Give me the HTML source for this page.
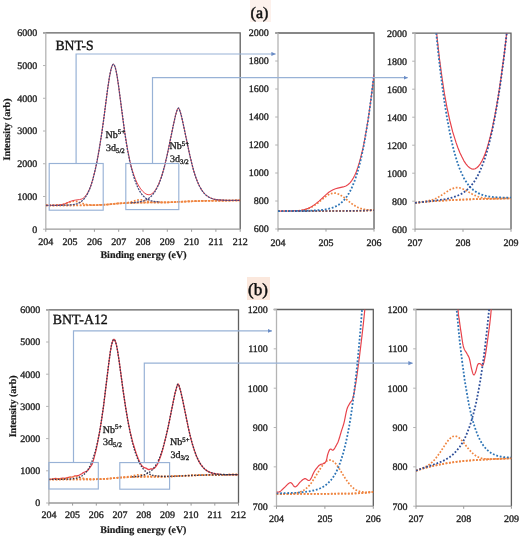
<!DOCTYPE html>
<html><head><meta charset="utf-8"><title>XPS Nb 3d</title><style>
html,body{margin:0;padding:0;background:#fff;}
svg{display:block;}
text{font-family:"Liberation Serif","Times New Roman",serif;text-rendering:geometricPrecision;}
.tl{font-size:10px;fill:#262626;stroke:#262626;stroke-width:0.35px;}
.ax{font-size:10px;font-weight:bold;fill:#1a1a1a;stroke:#1a1a1a;stroke-width:0.2px;}
.nm{font-size:14px;fill:#111;stroke:#111;stroke-width:0.35px;}
.nb{font-size:10px;fill:#1e1e1e;stroke:#1e1e1e;stroke-width:0.35px;}
.sup{font-size:6.8px;}
.ttl{font-size:16px;fill:#111;stroke:#111;stroke-width:0.5px;}
.ttlb{font-size:17px;fill:#111;stroke:#111;stroke-width:0.5px;}
</style></head>
<body><svg width="520" height="536" viewBox="0 0 520 536">
<rect width="520" height="536" fill="#fff"/>
<filter id="soft" x="0" y="0" width="100%" height="100%"><feGaussianBlur stdDeviation="0.35"/></filter>
<g filter="url(#soft)">
<defs>
<clipPath id="ca1"><rect x="45.80" y="32.82" width="194.40" height="196.38"/></clipPath>
<clipPath id="ca2"><rect x="278.00" y="33.00" width="96.00" height="196.00"/></clipPath>
<clipPath id="ca3"><rect x="415.00" y="33.20" width="96.00" height="196.00"/></clipPath>
<clipPath id="cb1"><rect x="48.90" y="309.80" width="189.60" height="193.20"/></clipPath>
<clipPath id="cb2"><rect x="276.50" y="309.50" width="96.80" height="196.70"/></clipPath>
<clipPath id="cb3"><rect x="416.00" y="309.50" width="95.40" height="196.70"/></clipPath>
<marker id="arr" markerWidth="6" markerHeight="6" refX="4.2" refY="2.1" orient="auto" markerUnits="userSpaceOnUse"><path d="M0,0 L4.4,2.1 L0,4.2 z" fill="#6a8cc6"/></marker>
</defs>
<rect x="250" y="0" width="21" height="22" fill="#fdf1ec"/>
<rect x="247" y="277" width="23" height="23" fill="#fbe8dd"/>
<text x="259.5" y="18" class="ttl" text-anchor="middle">(a)</text>
<text x="258" y="294.5" class="ttlb" text-anchor="middle">(b)</text>
<path d="M43.00,32.82 H240.20 V229.20" fill="none" stroke="#5f5f5f" stroke-width="1.3"/>
<path d="M45.80,32.82 V229.20" stroke="#b4b4b4" stroke-width="1.3"/>
<path d="M45.80,229.20 H240.20" stroke="#9a9a9a" stroke-width="1.3"/>
<path d="M43.00,229.20 H45.80" stroke="#b4b4b4" stroke-width="1"/>
<text x="37.30" y="232.60" class="tl" text-anchor="end">0</text>
<path d="M43.00,196.47 H45.80" stroke="#b4b4b4" stroke-width="1"/>
<text x="37.30" y="199.87" class="tl" text-anchor="end">1000</text>
<path d="M43.00,163.74 H45.80" stroke="#b4b4b4" stroke-width="1"/>
<text x="37.30" y="167.14" class="tl" text-anchor="end">2000</text>
<path d="M43.00,131.01 H45.80" stroke="#b4b4b4" stroke-width="1"/>
<text x="37.30" y="134.41" class="tl" text-anchor="end">3000</text>
<path d="M43.00,98.28 H45.80" stroke="#b4b4b4" stroke-width="1"/>
<text x="37.30" y="101.68" class="tl" text-anchor="end">4000</text>
<path d="M43.00,65.55 H45.80" stroke="#b4b4b4" stroke-width="1"/>
<text x="37.30" y="68.95" class="tl" text-anchor="end">5000</text>
<path d="M43.00,32.82 H45.80" stroke="#b4b4b4" stroke-width="1"/>
<text x="37.30" y="36.22" class="tl" text-anchor="end">6000</text>
<path d="M45.80,229.20 V231.80" stroke="#9a9a9a" stroke-width="1"/>
<text x="45.80" y="244.80" class="tl" text-anchor="middle">204</text>
<path d="M70.10,229.20 V231.80" stroke="#9a9a9a" stroke-width="1"/>
<text x="70.10" y="244.80" class="tl" text-anchor="middle">205</text>
<path d="M94.40,229.20 V231.80" stroke="#9a9a9a" stroke-width="1"/>
<text x="94.40" y="244.80" class="tl" text-anchor="middle">206</text>
<path d="M118.70,229.20 V231.80" stroke="#9a9a9a" stroke-width="1"/>
<text x="118.70" y="244.80" class="tl" text-anchor="middle">207</text>
<path d="M143.00,229.20 V231.80" stroke="#9a9a9a" stroke-width="1"/>
<text x="143.00" y="244.80" class="tl" text-anchor="middle">208</text>
<path d="M167.30,229.20 V231.80" stroke="#9a9a9a" stroke-width="1"/>
<text x="167.30" y="244.80" class="tl" text-anchor="middle">209</text>
<path d="M191.60,229.20 V231.80" stroke="#9a9a9a" stroke-width="1"/>
<text x="191.60" y="244.80" class="tl" text-anchor="middle">210</text>
<path d="M215.90,229.20 V231.80" stroke="#9a9a9a" stroke-width="1"/>
<text x="215.90" y="244.80" class="tl" text-anchor="middle">211</text>
<path d="M240.20,229.20 V231.80" stroke="#9a9a9a" stroke-width="1"/>
<text x="240.20" y="244.80" class="tl" text-anchor="middle">212</text>
<path d="M275.20,33.00 H374.00 V229.00" fill="none" stroke="#5f5f5f" stroke-width="1.3"/>
<path d="M278.00,33.00 V229.00" stroke="#b4b4b4" stroke-width="1.3"/>
<path d="M278.00,229.00 H374.00" stroke="#9a9a9a" stroke-width="1.3"/>
<path d="M275.20,229.00 H278.00" stroke="#b4b4b4" stroke-width="1"/>
<text x="268.80" y="232.40" class="tl" text-anchor="end">600</text>
<path d="M275.20,201.00 H278.00" stroke="#b4b4b4" stroke-width="1"/>
<text x="268.80" y="204.40" class="tl" text-anchor="end">800</text>
<path d="M275.20,173.00 H278.00" stroke="#b4b4b4" stroke-width="1"/>
<text x="268.80" y="176.40" class="tl" text-anchor="end">1000</text>
<path d="M275.20,145.00 H278.00" stroke="#b4b4b4" stroke-width="1"/>
<text x="268.80" y="148.40" class="tl" text-anchor="end">1200</text>
<path d="M275.20,117.00 H278.00" stroke="#b4b4b4" stroke-width="1"/>
<text x="268.80" y="120.40" class="tl" text-anchor="end">1400</text>
<path d="M275.20,89.00 H278.00" stroke="#b4b4b4" stroke-width="1"/>
<text x="268.80" y="92.40" class="tl" text-anchor="end">1600</text>
<path d="M275.20,61.00 H278.00" stroke="#b4b4b4" stroke-width="1"/>
<text x="268.80" y="64.40" class="tl" text-anchor="end">1800</text>
<path d="M275.20,33.00 H278.00" stroke="#b4b4b4" stroke-width="1"/>
<text x="268.80" y="36.40" class="tl" text-anchor="end">2000</text>
<path d="M278.00,229.00 V231.60" stroke="#9a9a9a" stroke-width="1"/>
<text x="278.00" y="245.50" class="tl" text-anchor="middle">204</text>
<path d="M326.00,229.00 V231.60" stroke="#9a9a9a" stroke-width="1"/>
<text x="326.00" y="245.50" class="tl" text-anchor="middle">205</text>
<path d="M374.00,229.00 V231.60" stroke="#9a9a9a" stroke-width="1"/>
<text x="374.00" y="245.50" class="tl" text-anchor="middle">206</text>
<path d="M412.20,33.20 H511.00 V229.20" fill="none" stroke="#5f5f5f" stroke-width="1.3"/>
<path d="M415.00,33.20 V229.20" stroke="#b4b4b4" stroke-width="1.3"/>
<path d="M415.00,229.20 H511.00" stroke="#9a9a9a" stroke-width="1.3"/>
<path d="M412.20,229.20 H415.00" stroke="#b4b4b4" stroke-width="1"/>
<text x="407.00" y="232.60" class="tl" text-anchor="end">600</text>
<path d="M412.20,201.20 H415.00" stroke="#b4b4b4" stroke-width="1"/>
<text x="407.00" y="204.60" class="tl" text-anchor="end">800</text>
<path d="M412.20,173.20 H415.00" stroke="#b4b4b4" stroke-width="1"/>
<text x="407.00" y="176.60" class="tl" text-anchor="end">1000</text>
<path d="M412.20,145.20 H415.00" stroke="#b4b4b4" stroke-width="1"/>
<text x="407.00" y="148.60" class="tl" text-anchor="end">1200</text>
<path d="M412.20,117.20 H415.00" stroke="#b4b4b4" stroke-width="1"/>
<text x="407.00" y="120.60" class="tl" text-anchor="end">1400</text>
<path d="M412.20,89.20 H415.00" stroke="#b4b4b4" stroke-width="1"/>
<text x="407.00" y="92.60" class="tl" text-anchor="end">1600</text>
<path d="M412.20,61.20 H415.00" stroke="#b4b4b4" stroke-width="1"/>
<text x="407.00" y="64.60" class="tl" text-anchor="end">1800</text>
<path d="M412.20,33.20 H415.00" stroke="#b4b4b4" stroke-width="1"/>
<text x="407.00" y="36.60" class="tl" text-anchor="end">2000</text>
<path d="M415.00,229.20 V231.80" stroke="#9a9a9a" stroke-width="1"/>
<text x="415.00" y="245.50" class="tl" text-anchor="middle">207</text>
<path d="M463.00,229.20 V231.80" stroke="#9a9a9a" stroke-width="1"/>
<text x="463.00" y="245.50" class="tl" text-anchor="middle">208</text>
<path d="M511.00,229.20 V231.80" stroke="#9a9a9a" stroke-width="1"/>
<text x="511.00" y="245.50" class="tl" text-anchor="middle">209</text>
<g clip-path="url(#ca1)">
<path d="M45.8,205.4 L55.5,205.3 L60.4,204.9 L64.2,204.1 L71.0,201.7 L72.6,201.3 L74.0,201.2 L75.7,201.3 L77.5,201.6 L83.6,203.8 L86.6,204.6 L90.1,205.0 L94.5,205.1 L105.3,204.7 L117.8,203.5 L128.4,203.0 L143.0,202.6 L169.0,202.3 L191.2,201.3 L205.2,200.8 L240.2,200.4" fill="none" stroke="#ef8540" stroke-width="1.7" stroke-dasharray="1.7 1.7"/>
<path d="M45.8,205.4 L86.1,205.3 L95.9,205.1 L103.2,204.8 L107.9,204.5 L116.6,203.6 L126.9,202.8 L130.6,202.1 L137.0,200.2 L139.8,199.8 L141.3,199.9 L142.8,200.1 L148.4,201.5 L151.1,202.0 L154.1,202.3 L158.0,202.4 L170.0,202.3 L190.8,201.3 L203.9,200.9 L240.2,200.4" fill="none" stroke="#ef8540" stroke-width="1.7" stroke-dasharray="1.7 1.7"/>
<path d="M45.8,205.4 L82.9,205.3 L95.1,205.2 L107.1,204.5 L118.3,203.4 L128.2,203.0 L142.9,202.6 L169.0,202.3 L191.2,201.3 L205.2,200.8 L240.2,200.4" fill="none" stroke="#ef8540" stroke-width="1.6" stroke-dasharray="1.6 1.8"/>
<path d="M45.8,205.4 L55.7,205.3 L58.4,205.1 L60.8,204.8 L62.7,204.4 L64.6,203.8 L70.6,201.3 L72.9,200.6 L75.2,200.1 L79.4,199.6 L81.1,199.2 L82.2,198.8 L83.2,198.2 L85.1,196.5 L86.9,194.1 L88.7,190.9 L90.9,185.6 L92.9,179.0 L95.0,170.7 L97.1,161.1 L99.3,148.9 L101.5,134.9 L103.6,120.1 L107.6,89.2 L109.4,77.2 L110.5,71.6 L111.5,67.6 L112.4,65.2 L112.9,64.5 L113.4,64.3 L113.8,64.4 L114.2,64.9 L115.1,67.0 L116.0,70.4 L117.0,75.6 L118.7,86.9 L122.9,119.1 L125.1,134.6 L127.5,149.3 L130.0,161.5 L131.3,166.8 L132.7,171.5 L134.1,175.7 L135.6,179.6 L137.1,183.0 L138.9,186.1 L140.7,188.9 L142.7,191.3 L144.9,193.3 L146.0,194.0 L147.0,194.4 L148.1,194.7 L149.1,194.7 L150.1,194.6 L151.1,194.2 L152.1,193.6 L153.1,192.8 L155.1,190.5 L157.0,187.3 L159.0,183.3 L160.4,179.6 L161.8,175.6 L164.7,165.6 L167.9,151.7 L173.1,126.1 L175.0,117.7 L176.0,113.6 L176.9,110.6 L177.7,108.7 L178.4,107.9 L178.7,108.1 L179.0,108.6 L179.8,110.5 L180.7,113.3 L181.7,117.2 L183.5,125.4 L189.5,153.9 L191.5,162.3 L193.4,169.7 L195.4,176.3 L197.5,181.8 L199.6,186.4 L201.9,190.3 L203.1,192.0 L204.4,193.5 L205.8,194.9 L207.2,196.0 L208.6,197.0 L210.2,197.8 L211.9,198.5 L213.7,199.1 L217.6,199.8 L222.4,200.2 L228.4,200.4 L240.2,200.4" fill="none" stroke="#e8434b" stroke-width="1.0" stroke-linejoin="round"/>
<path d="M45.8,205.4 L60.5,205.3 L67.8,205.1 L72.8,204.7 L76.6,203.9 L78.4,203.2 L80.0,202.4 L81.6,201.3 L83.0,200.0 L84.4,198.5 L85.7,196.7 L87.0,194.7 L88.2,192.4 L90.5,186.9 L92.7,179.9 L94.8,171.6 L97.0,161.6 L99.2,149.2 L101.5,134.9 L103.6,120.1 L107.6,89.2 L109.4,77.2 L110.5,71.6 L111.5,67.6 L112.4,65.2 L112.9,64.5 L113.4,64.3 L113.8,64.5 L114.3,65.0 L115.2,67.2 L116.1,70.9 L117.2,76.5 L118.9,88.3 L124.3,129.3 L126.1,141.5 L127.9,151.9 L129.5,160.0 L131.2,167.3 L132.9,173.8 L134.7,179.6 L136.9,185.5 L139.2,190.3 L140.5,192.4 L141.7,194.1 L143.1,195.7 L144.5,197.1 L145.9,198.2 L147.4,199.2 L149.0,199.9 L150.7,200.6 L152.6,201.1 L154.7,201.5 L160.0,202.0" fill="none" stroke="#474a7e" stroke-width="1.3" stroke-dasharray="2.0 1.0"/>
<path d="M130.9,202.8 L136.5,202.3 L140.8,201.6 L144.4,200.6 L147.4,199.3 L150.2,197.3 L152.6,194.8 L154.9,191.7 L157.1,187.8 L158.9,183.9 L160.7,179.3 L162.4,174.0 L164.1,168.0 L165.8,161.0 L167.6,153.1 L173.2,126.0 L175.0,117.6 L176.0,113.6 L176.9,110.7 L177.7,108.8 L178.4,108.0 L178.7,108.2 L179.0,108.7 L179.8,110.6 L180.7,113.4 L181.7,117.2 L183.5,125.4 L189.5,153.9 L191.5,162.4 L193.4,169.7 L195.4,176.3 L197.5,181.8 L199.6,186.5 L201.9,190.3 L203.1,192.0 L204.4,193.6 L205.8,194.9 L207.2,196.0 L208.6,197.0 L210.2,197.8 L211.9,198.5 L213.7,199.1 L217.6,199.8 L222.4,200.2 L228.4,200.4 L240.2,200.4" fill="none" stroke="#474a7e" stroke-width="1.3" stroke-dasharray="2.0 1.0"/>
</g>
<g clip-path="url(#ca2)">
<path d="M278.0,211.2 L351.1,210.9 L361.8,210.7 L374.0,210.2" fill="none" stroke="#ef8540" stroke-width="1.8" stroke-dasharray="1.7 1.7"/>
<path d="M278.0,211.2 L351.1,210.9 L361.8,210.7 L374.0,210.2" fill="none" stroke="#ef8540" stroke-width="1.7" stroke-dasharray="1.7 1.7"/>
<path d="M278.0,211.2 L290.2,211.2 L297.0,210.9 L302.3,210.3 L306.8,209.2 L310.6,207.7 L314.4,205.4 L317.8,203.0 L324.9,197.2 L328.0,195.0 L329.6,194.2 L331.2,193.6 L332.6,193.3 L334.1,193.1 L335.7,193.2 L337.3,193.6 L338.9,194.3 L340.6,195.2 L343.8,197.3 L350.0,202.3 L352.6,204.3 L355.6,206.2 L358.5,207.7 L361.8,208.8 L365.2,209.5 L369.2,210.0 L374.0,210.1" fill="none" stroke="#ef8540" stroke-width="1.7" stroke-dasharray="1.7 1.7"/>
<path d="M278.0,211.1 L290.8,211.0 L298.0,210.6 L301.0,210.2 L303.6,209.7 L306.1,209.0 L308.3,208.2 L312.0,206.4 L315.6,203.9 L319.0,201.1 L326.6,194.1 L328.8,192.3 L330.8,191.0 L333.1,189.7 L335.5,188.7 L337.8,188.1 L343.2,186.9 L345.9,185.9 L347.5,185.0 L349.0,183.8 L350.4,182.4 L351.7,180.6 L353.3,178.1 L354.8,175.2 L356.3,171.7 L357.7,167.7 L359.2,163.0 L360.6,158.0 L363.4,146.2 L366.1,131.7 L368.8,115.1 L371.4,95.8 L374.0,74.5" fill="none" stroke="#e8434b" stroke-width="1.1" stroke-linejoin="round"/>
<path d="M278.0,211.2 L351.1,210.9 L361.8,210.7 L374.0,210.2" fill="none" stroke="#474a7e" stroke-width="1.6" stroke-dasharray="1.7 1.7"/>
<path d="M278.0,211.1 L299.4,210.9 L312.5,210.6 L321.2,210.0 L324.8,209.6 L327.8,209.0 L330.9,208.3 L333.7,207.3 L336.3,206.1 L338.7,204.7 L340.9,203.1 L343.0,201.2 L345.0,199.0 L346.8,196.6 L349.0,193.2 L351.0,189.5 L352.8,185.4 L354.7,180.6 L356.5,175.4 L358.2,169.5 L359.9,163.1 L361.6,156.0 L363.3,148.1 L364.8,139.9 L368.0,120.9 L371.0,99.2 L374.0,74.7" fill="none" stroke="#2e75b6" stroke-width="1.8" stroke-dasharray="1.8 1.8"/>
</g>
<g clip-path="url(#ca3)">
<path d="M415.0,202.9 L422.5,202.1 L431.1,201.3 L455.0,199.9 L473.6,199.2 L511.0,198.3" fill="none" stroke="#ef8540" stroke-width="1.8" stroke-dasharray="1.7 1.7"/>
<path d="M415.0,202.9 L422.5,202.1 L431.1,201.3 L455.0,199.9 L473.6,199.2 L511.0,198.3" fill="none" stroke="#ef8540" stroke-width="1.7" stroke-dasharray="1.7 1.7"/>
<path d="M415.0,202.9 L426.6,201.2 L430.3,200.4 L433.5,199.4 L436.5,198.2 L439.4,196.6 L448.0,191.0 L450.8,189.3 L453.9,188.1 L455.4,187.7 L456.8,187.6 L458.1,187.6 L459.5,187.8 L462.4,188.7 L465.2,190.0 L471.7,193.8 L474.9,195.4 L478.4,196.8 L482.0,197.7 L486.3,198.3 L491.6,198.6 L500.1,198.5 L511.0,198.3" fill="none" stroke="#ef8540" stroke-width="1.7" stroke-dasharray="1.7 1.7"/>
<path d="M415.0,-286.5 L422.2,-159.9 L426.1,-95.9 L428.3,-64.1 L430.5,-35.0 L432.6,-8.5 L434.8,15.4 L437.2,38.6 L439.5,59.1 L442.0,77.6 L444.4,93.5 L447.0,107.6 L449.8,120.5 L452.7,131.9 L456.0,142.4 L457.9,147.8 L459.9,152.7 L462.0,157.1 L463.9,160.8 L465.9,163.8 L467.8,166.1 L469.6,167.8 L471.5,168.8 L473.3,169.1 L474.2,169.0 L475.1,168.8 L476.8,167.8 L478.5,166.2 L480.3,163.8 L481.9,161.0 L483.6,157.4 L485.3,153.2 L487.0,148.4 L488.6,142.8 L490.3,136.5 L491.9,130.0 L495.1,114.3 L498.3,96.2 L501.4,75.2 L504.5,52.1 L507.6,25.2 L511.0,-6.2" fill="none" stroke="#e8434b" stroke-width="1.2" stroke-linejoin="round"/>
<path d="M415.0,-286.5 L421.7,-168.1 L425.0,-113.9 L428.6,-59.1 L432.2,-11.4 L434.2,11.5 L436.3,33.4 L438.3,53.4 L440.5,72.3 L442.7,89.2 L444.8,104.3 L447.1,118.3 L449.5,131.1 L451.7,141.7 L454.0,151.0 L456.4,159.3 L458.8,166.6 L461.4,172.9 L464.1,178.5 L467.0,183.0 L468.6,185.2 L470.1,187.0 L473.3,190.0 L476.6,192.3 L480.4,194.2 L484.6,195.6 L489.5,196.6 L495.4,197.2 L502.7,197.6 L511.0,197.7" fill="none" stroke="#2e75b6" stroke-width="1.8" stroke-dasharray="1.8 1.8"/>
<path d="M415.0,202.8 L436.8,200.4 L444.9,199.3 L449.1,198.4 L452.8,197.4 L456.2,196.3 L459.2,195.0 L462.4,193.3 L465.3,191.3 L468.1,188.9 L470.6,186.3 L473.1,183.2 L475.4,179.8 L477.5,176.1 L479.7,171.7 L481.9,166.4 L484.1,160.6 L486.3,153.9 L488.3,146.6 L490.3,138.8 L492.3,130.1 L494.2,120.5 L496.1,110.4 L499.9,87.2 L503.5,60.7 L507.1,30.3 L511.0,-5.7" fill="none" stroke="#2f4f9a" stroke-width="1.8" stroke-dasharray="1.8 1.8"/>
</g>
<rect x="49.2" y="163.5" width="54.0" height="46.7" fill="none" stroke="#98b2d6" stroke-width="1.15"/>
<rect x="125.8" y="163.5" width="53.0" height="46.1" fill="none" stroke="#98b2d6" stroke-width="1.15"/>
<path d="M76.1,163.5 V54.0 H275.6" fill="none" stroke="#98b2d6" stroke-width="1.2" marker-end="url(#arr)"/>
<path d="M152.5,163.5 V77.7 H407.7" fill="none" stroke="#98b2d6" stroke-width="1.2" marker-end="url(#arr)"/>
<text x="55.4" y="50.0" class="nm" textLength="38.3" lengthAdjust="spacingAndGlyphs">BNT-S</text>
<text x="105.6" y="137.7" class="nb">Nb<tspan class="sup" dy="-3.3">5+</tspan></text>
<text x="106.0" y="150.6" class="nb">3d<tspan class="sup" dy="2.2">5/2</tspan></text>
<text x="169.6" y="149.2" class="nb">Nb<tspan class="sup" dy="-3.3">5+</tspan></text>
<text x="170.0" y="162.1" class="nb">3d<tspan class="sup" dy="2.2">3/2</tspan></text>
<text x="143.5" y="258.3" class="ax" text-anchor="middle">Binding energy (eV)</text>
<text transform="translate(9.6,129.5) rotate(-90)" class="ax" text-anchor="middle">Intensity (arb)</text>
<path d="M46.10,309.80 H238.50 V503.00" fill="none" stroke="#5f5f5f" stroke-width="1.3"/>
<path d="M48.90,309.80 V503.00" stroke="#b4b4b4" stroke-width="1.3"/>
<path d="M48.90,503.00 H238.50" stroke="#9a9a9a" stroke-width="1.3"/>
<path d="M46.10,503.00 H48.90" stroke="#b4b4b4" stroke-width="1"/>
<text x="40.30" y="506.40" class="tl" text-anchor="end">0</text>
<path d="M46.10,470.80 H48.90" stroke="#b4b4b4" stroke-width="1"/>
<text x="40.30" y="474.20" class="tl" text-anchor="end">1000</text>
<path d="M46.10,438.60 H48.90" stroke="#b4b4b4" stroke-width="1"/>
<text x="40.30" y="442.00" class="tl" text-anchor="end">2000</text>
<path d="M46.10,406.40 H48.90" stroke="#b4b4b4" stroke-width="1"/>
<text x="40.30" y="409.80" class="tl" text-anchor="end">3000</text>
<path d="M46.10,374.20 H48.90" stroke="#b4b4b4" stroke-width="1"/>
<text x="40.30" y="377.60" class="tl" text-anchor="end">4000</text>
<path d="M46.10,342.00 H48.90" stroke="#b4b4b4" stroke-width="1"/>
<text x="40.30" y="345.40" class="tl" text-anchor="end">5000</text>
<path d="M46.10,309.80 H48.90" stroke="#b4b4b4" stroke-width="1"/>
<text x="40.30" y="313.20" class="tl" text-anchor="end">6000</text>
<path d="M48.90,503.00 V505.60" stroke="#9a9a9a" stroke-width="1"/>
<text x="48.90" y="517.60" class="tl" text-anchor="middle">204</text>
<path d="M72.60,503.00 V505.60" stroke="#9a9a9a" stroke-width="1"/>
<text x="72.60" y="517.60" class="tl" text-anchor="middle">205</text>
<path d="M96.30,503.00 V505.60" stroke="#9a9a9a" stroke-width="1"/>
<text x="96.30" y="517.60" class="tl" text-anchor="middle">206</text>
<path d="M120.00,503.00 V505.60" stroke="#9a9a9a" stroke-width="1"/>
<text x="120.00" y="517.60" class="tl" text-anchor="middle">207</text>
<path d="M143.70,503.00 V505.60" stroke="#9a9a9a" stroke-width="1"/>
<text x="143.70" y="517.60" class="tl" text-anchor="middle">208</text>
<path d="M167.40,503.00 V505.60" stroke="#9a9a9a" stroke-width="1"/>
<text x="167.40" y="517.60" class="tl" text-anchor="middle">209</text>
<path d="M191.10,503.00 V505.60" stroke="#9a9a9a" stroke-width="1"/>
<text x="191.10" y="517.60" class="tl" text-anchor="middle">210</text>
<path d="M214.80,503.00 V505.60" stroke="#9a9a9a" stroke-width="1"/>
<text x="214.80" y="517.60" class="tl" text-anchor="middle">211</text>
<path d="M238.50,503.00 V505.60" stroke="#9a9a9a" stroke-width="1"/>
<text x="238.50" y="517.60" class="tl" text-anchor="middle">212</text>
<path d="M273.70,309.50 H373.30 V506.20" fill="none" stroke="#5f5f5f" stroke-width="1.3"/>
<path d="M276.50,309.50 V506.20" stroke="#b4b4b4" stroke-width="1.3"/>
<path d="M276.50,506.20 H373.30" stroke="#9a9a9a" stroke-width="1.3"/>
<path d="M273.70,506.20 H276.50" stroke="#b4b4b4" stroke-width="1"/>
<text x="267.80" y="509.60" class="tl" text-anchor="end">700</text>
<path d="M273.70,466.86 H276.50" stroke="#b4b4b4" stroke-width="1"/>
<text x="267.80" y="470.26" class="tl" text-anchor="end">800</text>
<path d="M273.70,427.52 H276.50" stroke="#b4b4b4" stroke-width="1"/>
<text x="267.80" y="430.92" class="tl" text-anchor="end">900</text>
<path d="M273.70,388.18 H276.50" stroke="#b4b4b4" stroke-width="1"/>
<text x="267.80" y="391.58" class="tl" text-anchor="end">1000</text>
<path d="M273.70,348.84 H276.50" stroke="#b4b4b4" stroke-width="1"/>
<text x="267.80" y="352.24" class="tl" text-anchor="end">1100</text>
<path d="M273.70,309.50 H276.50" stroke="#b4b4b4" stroke-width="1"/>
<text x="267.80" y="312.90" class="tl" text-anchor="end">1200</text>
<path d="M276.50,506.20 V508.80" stroke="#9a9a9a" stroke-width="1"/>
<text x="276.50" y="522.20" class="tl" text-anchor="middle">204</text>
<path d="M324.90,506.20 V508.80" stroke="#9a9a9a" stroke-width="1"/>
<text x="324.90" y="522.20" class="tl" text-anchor="middle">205</text>
<path d="M373.30,506.20 V508.80" stroke="#9a9a9a" stroke-width="1"/>
<text x="373.30" y="522.20" class="tl" text-anchor="middle">206</text>
<path d="M413.20,309.50 H511.40 V506.20" fill="none" stroke="#5f5f5f" stroke-width="1.3"/>
<path d="M416.00,309.50 V506.20" stroke="#b4b4b4" stroke-width="1.3"/>
<path d="M416.00,506.20 H511.40" stroke="#9a9a9a" stroke-width="1.3"/>
<path d="M413.20,506.20 H416.00" stroke="#b4b4b4" stroke-width="1"/>
<text x="407.60" y="509.60" class="tl" text-anchor="end">700</text>
<path d="M413.20,466.86 H416.00" stroke="#b4b4b4" stroke-width="1"/>
<text x="407.60" y="470.26" class="tl" text-anchor="end">800</text>
<path d="M413.20,427.52 H416.00" stroke="#b4b4b4" stroke-width="1"/>
<text x="407.60" y="430.92" class="tl" text-anchor="end">900</text>
<path d="M413.20,388.18 H416.00" stroke="#b4b4b4" stroke-width="1"/>
<text x="407.60" y="391.58" class="tl" text-anchor="end">1000</text>
<path d="M413.20,348.84 H416.00" stroke="#b4b4b4" stroke-width="1"/>
<text x="407.60" y="352.24" class="tl" text-anchor="end">1100</text>
<path d="M413.20,309.50 H416.00" stroke="#b4b4b4" stroke-width="1"/>
<text x="407.60" y="312.90" class="tl" text-anchor="end">1200</text>
<path d="M416.00,506.20 V508.80" stroke="#9a9a9a" stroke-width="1"/>
<text x="416.00" y="522.20" class="tl" text-anchor="middle">207</text>
<path d="M463.70,506.20 V508.80" stroke="#9a9a9a" stroke-width="1"/>
<text x="463.70" y="522.20" class="tl" text-anchor="middle">208</text>
<path d="M511.40,506.20 V508.80" stroke="#9a9a9a" stroke-width="1"/>
<text x="511.40" y="522.20" class="tl" text-anchor="middle">209</text>
<g clip-path="url(#cb1)">
<path d="M48.9,479.3 L50.5,479.3 L55.7,478.5 L58.0,478.9 L62.8,478.2 L65.1,478.3 L67.5,477.6 L69.9,477.1 L73.1,476.8 L74.1,476.2 L75.2,475.8 L76.7,475.9 L78.6,475.4 L79.4,475.0 L81.8,473.7 L83.4,472.5 L86.0,471.7 L86.7,471.3 L88.0,470.1 L89.5,468.2 L92.1,464.4 L94.1,457.7 L96.1,449.8 L97.7,441.9 L100.1,429.1 L101.8,418.3 L103.6,405.9 L108.7,364.0 L110.3,351.9 L111.3,346.2 L112.2,342.4 L113.1,340.1 L113.5,339.5 L113.9,339.4 L114.3,339.5 L114.7,340.0 L115.6,342.0 L116.5,345.4 L117.5,350.4 L119.2,361.3 L123.2,391.2 L125.4,405.8 L127.8,420.2 L130.2,432.2 L132.9,442.9 L136.3,453.8 L138.1,458.4 L139.9,462.5 L140.9,464.3 L142.3,466.1 L143.6,467.4 L146.5,468.4 L147.6,469.2 L148.6,469.7 L149.6,469.5 L150.7,468.9 L151.9,468.8 L153.2,468.9 L154.3,468.2 L156.1,466.2 L157.3,464.4 L158.0,462.9 L159.6,459.1 L161.1,454.7 L162.6,449.8 L164.1,444.2 L166.3,435.1 L168.1,427.3 L173.5,400.4 L175.2,392.7 L176.9,386.4 L177.5,384.7 L178.1,384.0 L178.7,384.8 L179.3,386.5 L181.0,392.6 L182.7,400.1 L188.3,427.7 L190.3,436.3 L192.2,443.5 L194.3,450.1 L196.3,455.7 L198.4,460.4 L200.7,464.3 L203.3,467.6 L204.6,468.9 L206.0,470.1 L207.5,471.1 L209.0,471.9 L210.7,472.6 L212.6,473.2 L216.4,474.0 L221.2,474.4 L227.3,474.6 L238.5,474.6" fill="none" stroke="#e8434b" stroke-width="1.3" stroke-linejoin="round"/>
<path d="M48.9,479.5 L57.8,479.4 L62.3,479.1 L65.9,478.6 L72.0,477.0 L74.7,476.7 L76.2,476.7 L77.8,477.0 L83.8,478.5 L86.8,479.0 L90.4,479.3 L95.6,479.3 L100.8,479.1 L108.4,478.7 L119.8,477.6 L130.7,477.1 L143.6,476.8 L169.0,476.5 L190.3,475.5 L204.7,475.0 L238.5,474.6" fill="none" stroke="#ef8540" stroke-width="1.7" stroke-dasharray="1.7 1.7"/>
<path d="M48.9,479.5 L87.2,479.4 L101.4,479.1 L109.2,478.6 L117.9,477.7 L126.7,477.0 L130.2,476.5 L136.2,475.0 L138.9,474.7 L141.8,474.9 L147.2,476.0 L149.8,476.4 L153.0,476.6 L157.3,476.6 L169.8,476.5 L189.7,475.5 L203.0,475.0 L238.5,474.6" fill="none" stroke="#ef8540" stroke-width="1.7" stroke-dasharray="1.7 1.7"/>
<path d="M48.9,479.5 L85.5,479.4 L97.2,479.3 L108.7,478.6 L119.6,477.6 L130.6,477.1 L143.5,476.8 L169.0,476.5 L190.3,475.5 L204.7,475.0 L238.5,474.6" fill="none" stroke="#ef8540" stroke-width="1.6" stroke-dasharray="1.6 1.8"/>
<path d="M48.9,479.4 L62.3,479.3 L69.6,479.1 L74.6,478.5 L76.7,478.1 L78.5,477.5 L80.4,476.7 L82.1,475.8 L83.7,474.6 L85.2,473.2 L86.6,471.5 L88.0,469.6 L89.3,467.4 L90.6,464.8 L92.9,458.9 L95.2,451.7 L97.3,443.2 L99.4,433.1 L101.3,421.4 L103.3,407.7 L108.7,363.6 L110.4,351.5 L111.3,346.2 L112.2,342.4 L113.1,340.1 L113.5,339.5 L113.9,339.4 L114.3,339.5 L114.7,340.0 L115.6,342.0 L116.5,345.4 L117.5,350.4 L119.1,361.0 L123.4,392.6 L125.8,408.7 L128.5,424.5 L131.3,437.8 L132.7,443.7 L134.2,449.1 L135.8,454.0 L137.4,458.2 L139.0,461.9 L140.7,465.2 L142.4,467.9 L144.3,470.2 L145.8,471.7 L147.3,472.9 L149.0,473.9 L150.9,474.7 L152.9,475.3 L155.0,475.8 L157.6,476.1 L160.7,476.3 L165.4,476.5 L170.2,476.4 L190.7,475.5 L205.2,475.0 L238.5,474.6" fill="none" stroke="#33344f" stroke-width="1.3" stroke-dasharray="1.5 1.5"/>
<path d="M131.9,476.9 L137.4,476.4 L141.6,475.6 L145.1,474.6 L148.0,473.2 L150.8,471.3 L153.2,468.8 L155.5,465.6 L157.7,461.8 L159.5,457.8 L161.3,453.2 L163.0,447.7 L164.7,441.6 L166.4,434.7 L168.2,426.7 L173.5,400.6 L175.1,392.9 L176.8,386.6 L177.5,384.7 L178.1,384.0 L178.7,384.8 L179.3,386.5 L181.0,392.6 L182.7,400.1 L188.3,427.7 L190.3,436.3 L192.2,443.5 L194.3,450.1 L196.3,455.7 L198.4,460.4 L200.7,464.3 L203.3,467.6 L204.6,468.9 L206.0,470.1 L207.5,471.1 L209.0,471.9 L210.7,472.6 L212.6,473.2 L216.4,474.0 L221.2,474.4 L227.3,474.6 L238.5,474.6" fill="none" stroke="#33344f" stroke-width="1.3" stroke-dasharray="1.5 1.5"/>
</g>
<g clip-path="url(#cb2)">
<path d="M276.5,494.0 L315.5,493.9 L350.8,493.6 L361.4,493.1 L373.3,492.0" fill="none" stroke="#ef8540" stroke-width="1.8" stroke-dasharray="1.7 1.7"/>
<path d="M276.5,494.0 L315.5,493.9 L350.8,493.6 L361.4,493.1 L373.3,492.0" fill="none" stroke="#ef8540" stroke-width="1.7" stroke-dasharray="1.7 1.7"/>
<path d="M276.5,494.0 L288.2,493.9 L291.7,493.7 L294.6,493.4 L297.3,492.9 L299.6,492.2 L301.8,491.3 L303.8,490.2 L305.7,488.9 L307.5,487.3 L309.3,485.4 L311.1,483.2 L314.3,478.4 L320.9,467.7 L323.9,463.6 L325.4,462.1 L326.8,460.9 L328.3,460.2 L329.7,460.0 L331.2,460.2 L332.7,460.9 L334.2,462.1 L335.8,463.7 L338.7,467.8 L344.9,477.8 L347.9,482.2 L349.5,484.2 L351.1,486.0 L352.5,487.4 L354.1,488.7 L355.9,489.9 L357.8,490.8 L359.8,491.5 L361.9,491.9 L364.2,492.2 L366.7,492.3 L373.3,492.0" fill="none" stroke="#ef8540" stroke-width="1.7" stroke-dasharray="1.7 1.7"/>
<path d="M276.50,492.04 L276.74,492.03 L277.06,492.06 L277.43,492.09 L277.84,492.11 L278.30,492.10 L278.79,492.03 L279.29,491.88 L279.80,491.64 L280.33,491.29 L280.89,490.85 L281.49,490.33 L282.10,489.75 L282.73,489.14 L283.38,488.52 L284.04,487.90 L284.70,487.32 L285.38,486.68 L286.09,485.95 L286.82,485.18 L287.56,484.42 L288.29,483.72 L289.02,483.15 L289.73,482.76 L290.40,482.60 L291.04,482.77 L291.66,483.25 L292.27,483.95 L292.86,484.76 L293.44,485.57 L294.02,486.27 L294.61,486.75 L295.20,486.92 L295.80,486.76 L296.40,486.35 L297.00,485.76 L297.60,485.05 L298.20,484.28 L298.80,483.51 L299.40,482.80 L300.00,482.20 L300.60,481.67 L301.20,481.11 L301.80,480.56 L302.39,480.04 L302.99,479.56 L303.59,479.16 L304.20,478.85 L304.80,478.66 L305.41,478.69 L306.02,478.94 L306.63,479.34 L307.25,479.79 L307.87,480.20 L308.48,480.47 L309.09,480.51 L309.70,480.24 L310.30,479.59 L310.91,478.65 L311.51,477.48 L312.11,476.18 L312.70,474.82 L313.30,473.48 L313.90,472.24 L314.50,471.19 L315.11,470.27 L315.72,469.39 L316.34,468.55 L316.96,467.77 L317.57,467.04 L318.17,466.38 L318.75,465.80 L319.30,465.29 L319.83,464.89 L320.34,464.61 L320.84,464.41 L321.32,464.28 L321.78,464.17 L322.24,464.06 L322.67,463.92 L323.10,463.71 L323.51,463.49 L323.91,463.30 L324.30,463.11 L324.67,462.90 L325.03,462.65 L325.37,462.32 L325.69,461.90 L326.00,461.35 L326.28,460.64 L326.54,459.78 L326.77,458.80 L326.99,457.76 L327.20,456.70 L327.42,455.67 L327.65,454.72 L327.90,453.88 L328.16,453.12 L328.43,452.37 L328.70,451.66 L328.97,451.00 L329.26,450.40 L329.56,449.89 L329.87,449.46 L330.20,449.16 L330.55,449.04 L330.90,449.12 L331.28,449.34 L331.66,449.62 L332.06,449.90 L332.46,450.09 L332.88,450.13 L333.30,449.94 L333.75,449.51 L334.23,448.89 L334.73,448.13 L335.24,447.29 L335.73,446.41 L336.20,445.54 L336.63,444.73 L337.00,444.04 L337.30,443.49 L337.54,443.03 L337.74,442.63 L337.92,442.25 L338.08,441.84 L338.26,441.38 L338.46,440.81 L338.70,440.11 L338.98,439.25 L339.28,438.28 L339.60,437.21 L339.94,436.08 L340.28,434.91 L340.62,433.73 L340.96,432.57 L341.30,431.45 L341.63,430.40 L341.96,429.40 L342.30,428.42 L342.63,427.42 L342.97,426.39 L343.31,425.29 L343.65,424.11 L344.00,422.80 L344.35,421.30 L344.71,419.62 L345.07,417.82 L345.43,415.96 L345.80,414.13 L346.16,412.38 L346.53,410.79 L346.90,409.42 L347.27,408.29 L347.64,407.32 L348.02,406.49 L348.39,405.76 L348.77,405.09 L349.15,404.45 L349.52,403.81 L349.90,403.13 L350.28,402.51 L350.65,402.02 L351.02,401.59 L351.40,401.16 L351.77,400.66 L352.15,400.01 L352.52,399.15 L352.90,398.01 L353.28,396.56 L353.66,394.86 L354.05,392.94 L354.44,390.88 L354.82,388.73 L355.19,386.54 L355.55,384.38 L355.90,382.28 L356.22,380.29 L356.52,378.35 L356.80,376.44 L357.08,374.48 L357.36,372.45 L357.65,370.28 L357.96,367.94 L358.30,365.36 L358.67,362.54 L359.06,359.51 L359.48,356.31 L359.90,352.97 L360.33,349.53 L360.76,346.04 L361.19,342.51 L361.60,339.00 L362.02,335.43 L362.44,331.71 L362.87,327.91 L363.30,324.08 L363.71,320.27 L364.11,316.54 L364.47,312.93 L364.80,309.50 L365.10,306.11 L365.37,302.63 L365.62,299.18 L365.85,295.85 L366.05,292.76 L366.23,290.00 L366.38,287.68 L366.50,285.90" fill="none" stroke="#e8434b" stroke-width="1.2"/>
<path d="M276.5,493.4 L287.4,493.1 L296.2,492.7 L303.2,492.1 L308.9,491.4 L313.6,490.5 L317.8,489.3 L321.5,487.8 L324.8,485.9 L327.9,483.4 L330.9,480.2 L333.6,476.6 L336.1,472.3 L338.5,467.1 L340.6,461.4 L342.7,454.9 L344.8,447.1 L347.0,437.5 L349.2,426.2 L351.2,414.1 L353.1,400.2 L355.0,385.0 L356.9,367.8 L358.7,349.5 L360.5,329.0 L362.2,307.5 L363.9,283.8 L367.1,230.9 L370.3,169.9 L373.3,103.2" fill="none" stroke="#2e75b6" stroke-width="1.8" stroke-dasharray="1.8 1.8"/>
</g>
<g clip-path="url(#cb3)">
<path d="M416.0,470.8 L424.2,468.1 L433.2,465.9 L445.1,463.5 L456.3,461.8 L463.7,461.0 L473.7,460.2 L489.4,459.3 L505.1,458.6 L511.4,458.2" fill="none" stroke="#ef8540" stroke-width="1.8" stroke-dasharray="1.7 1.7"/>
<path d="M416.0,470.8 L424.2,468.1 L433.2,465.9 L445.1,463.5 L456.3,461.8 L463.7,461.0 L473.7,460.2 L489.4,459.3 L505.1,458.6 L511.4,458.2" fill="none" stroke="#ef8540" stroke-width="1.7" stroke-dasharray="1.7 1.7"/>
<path d="M416.0,470.7 L422.2,468.3 L425.9,466.5 L429.2,464.5 L432.2,462.1 L434.9,459.4 L437.6,455.9 L440.2,452.3 L445.8,443.7 L448.5,440.0 L450.0,438.5 L451.4,437.3 L452.9,436.5 L454.3,436.1 L455.5,436.1 L456.8,436.5 L458.2,437.2 L459.5,438.2 L462.3,441.0 L468.7,449.2 L471.9,452.6 L473.7,454.3 L475.5,455.6 L477.3,456.7 L479.2,457.6 L481.2,458.2 L483.3,458.7 L485.7,458.9 L488.4,459.1 L500.0,458.8 L511.4,458.2" fill="none" stroke="#ef8540" stroke-width="1.7" stroke-dasharray="1.7 1.7"/>
<path d="M455.50,270.16 L455.70,273.39 L455.98,277.90 L456.31,283.29 L456.67,289.17 L457.04,295.12 L457.40,300.76 L457.73,305.69 L458.00,309.50 L458.22,312.19 L458.40,314.15 L458.56,315.53 L458.70,316.53 L458.84,317.31 L458.98,318.06 L459.13,318.93 L459.30,320.12 L459.49,321.52 L459.68,322.92 L459.87,324.32 L460.08,325.75 L460.29,327.22 L460.51,328.72 L460.75,330.29 L461.00,331.92 L461.27,333.70 L461.55,335.63 L461.84,337.66 L462.14,339.72 L462.46,341.73 L462.79,343.64 L463.14,345.38 L463.50,346.87 L463.89,348.12 L464.31,349.16 L464.75,350.06 L465.20,350.83 L465.65,351.53 L466.09,352.19 L466.51,352.86 L466.90,353.56 L467.26,354.24 L467.60,354.83 L467.92,355.37 L468.23,355.90 L468.52,356.45 L468.82,357.07 L469.11,357.80 L469.40,358.67 L469.69,359.74 L469.98,360.97 L470.26,362.33 L470.53,363.74 L470.80,365.16 L471.07,366.53 L471.34,367.80 L471.60,368.90 L471.86,369.91 L472.11,370.89 L472.36,371.81 L472.61,372.67 L472.86,373.42 L473.10,374.04 L473.35,374.51 L473.60,374.80 L473.85,374.91 L474.10,374.84 L474.34,374.61 L474.59,374.26 L474.84,373.81 L475.09,373.27 L475.34,372.68 L475.60,372.05 L475.86,371.30 L476.13,370.36 L476.40,369.30 L476.67,368.19 L476.94,367.10 L477.22,366.09 L477.51,365.22 L477.80,364.58 L478.10,364.14 L478.40,363.85 L478.72,363.69 L479.03,363.62 L479.35,363.62 L479.67,363.66 L479.99,363.73 L480.30,363.79 L480.61,363.94 L480.93,364.25 L481.25,364.64 L481.57,365.04 L481.88,365.39 L482.20,365.61 L482.50,365.62 L482.80,365.36 L483.09,364.87 L483.36,364.23 L483.62,363.43 L483.88,362.49 L484.14,361.38 L484.41,360.12 L484.70,358.69 L485.00,357.10 L485.33,355.27 L485.67,353.16 L486.03,350.85 L486.40,348.40 L486.77,345.88 L487.13,343.36 L487.47,340.92 L487.80,338.61 L488.11,336.39 L488.42,334.16 L488.71,331.95 L489.00,329.76 L489.27,327.62 L489.53,325.56 L489.78,323.57 L490.00,321.70 L490.20,320.00 L490.37,318.49 L490.52,317.10 L490.66,315.77 L490.79,314.41 L490.92,312.96 L491.05,311.35 L491.20,309.50 L491.37,307.26 L491.55,304.65 L491.74,301.81 L491.93,298.90 L492.10,296.09 L492.26,293.54 L492.40,291.40 L492.50,289.83" fill="none" stroke="#e8434b" stroke-width="1.2"/>
<path d="M416.0,-876.3 L422.1,-601.3 L425.9,-439.5 L429.9,-286.5 L434.0,-149.2 L436.2,-84.8 L438.4,-22.7 L440.7,34.2 L443.0,88.4 L445.4,137.4 L447.7,181.6 L450.1,221.1 L452.5,257.6 L454.8,288.5 L457.2,315.6 L459.6,340.1 L462.2,361.9 L464.8,381.0 L467.6,397.3 L469.0,404.9 L470.5,411.6 L472.0,417.6 L473.5,423.2 L475.0,427.9 L476.6,432.3 L478.2,436.3 L479.9,439.8 L481.6,442.9 L483.5,445.7 L485.5,448.2 L487.5,450.2 L489.8,452.1 L492.1,453.6 L494.7,454.8 L497.4,455.8 L500.4,456.5 L503.8,457.1 L507.5,457.4 L511.4,457.4" fill="none" stroke="#2e75b6" stroke-width="1.8" stroke-dasharray="1.8 1.8"/>
<path d="M416.0,470.6 L421.8,468.5 L437.0,463.4 L441.4,461.6 L445.3,459.8 L449.5,457.2 L453.2,454.3 L456.5,450.9 L459.6,447.0 L462.9,442.0 L465.8,436.2 L468.5,429.5 L471.1,422.1 L473.5,413.5 L475.9,403.8 L478.1,392.8 L480.3,380.7 L482.5,366.0 L484.8,349.1 L486.9,330.6 L489.0,310.6 L490.9,289.2 L492.9,265.4 L494.9,239.0 L496.7,211.3 L498.6,181.0 L500.4,147.9 L504.0,75.5 L507.7,-7.9 L511.4,-104.3" fill="none" stroke="#2f4f9a" stroke-width="1.8" stroke-dasharray="1.8 1.8"/>
</g>
<rect x="48.9" y="462.5" width="49.4" height="26.5" fill="none" stroke="#98b2d6" stroke-width="1.15"/>
<rect x="119.8" y="462.6" width="49.8" height="26.6" fill="none" stroke="#98b2d6" stroke-width="1.15"/>
<path d="M73.5,462.5 V330.9 H271.9" fill="none" stroke="#98b2d6" stroke-width="1.2" marker-end="url(#arr)"/>
<path d="M144.3,462.6 V363.2 H412.6" fill="none" stroke="#98b2d6" stroke-width="1.2" marker-end="url(#arr)"/>
<text x="52.8" y="324.2" class="nm" textLength="55.0" lengthAdjust="spacingAndGlyphs">BNT-A12</text>
<text x="102.7" y="432.7" class="nb">Nb<tspan class="sup" dy="-3.3">5+</tspan></text>
<text x="103.1" y="445.2" class="nb">3d<tspan class="sup" dy="2.2">5/2</tspan></text>
<text x="170.0" y="445.2" class="nb">Nb<tspan class="sup" dy="-3.3">5+</tspan></text>
<text x="170.4" y="457.7" class="nb">3d<tspan class="sup" dy="2.2">3/2</tspan></text>
<text x="143.4" y="532.6" class="ax" text-anchor="middle">Binding energy (eV)</text>
<text transform="translate(16.4,406.4) rotate(-90)" class="ax" text-anchor="middle">Intensity (arb)</text>
</g>
</svg></body></html>
